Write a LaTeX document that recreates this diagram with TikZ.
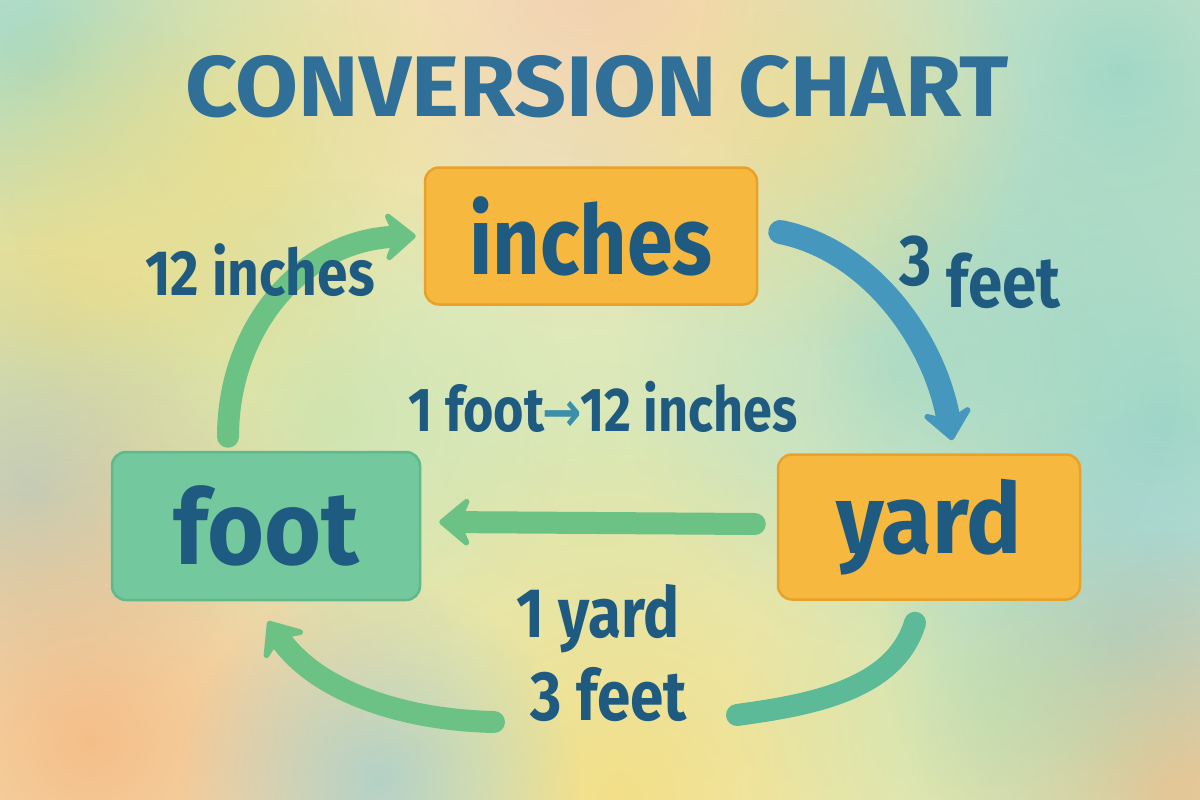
\documentclass[tikz,border=0pt]{standalone}
\usepackage{fontspec}
\setmainfont{Fira Sans}
\newfontfamily\dejavu{DejaVu Sans}
\usetikzlibrary{arrows.meta,fadings}
\definecolor{bgbase}{HTML}{F4EFC4}
\definecolor{titleblue}{HTML}{2F6F98}
\definecolor{lblblue}{HTML}{1F5B80}
\definecolor{orfill}{HTML}{F6B83E}
\definecolor{ordraw}{HTML}{E9A12A}
\definecolor{grfill}{HTML}{74C89E}
\definecolor{grdraw}{HTML}{5FB98C}
\definecolor{grarrow}{HTML}{6CC185}
\definecolor{blarrow}{HTML}{4597BD}
\definecolor{midarrow}{HTML}{3B8FA8}
\definecolor{tealarrow}{HTML}{5CBA98}
\definecolor{wcteal}{HTML}{8ED3C9}
\definecolor{wcorange}{HTML}{F5B27A}
\definecolor{wcyellow}{HTML}{F5DC7A}
\definecolor{wcblue}{HTML}{8CC8E0}
\definecolor{wcgreen}{HTML}{B8DFA8}
\definecolor{wcpeach}{HTML}{F5C4A8}
\tikzfading[name=softblob, inner color=transparent!0, outer color=transparent!100]
\begin{document}
\begin{tikzpicture}[x=1pt,y=-1pt,
  box/.style={rounded corners=14pt, line width=2.5pt, inner sep=0pt},
  boxtext/.style={text=lblblue, font=\bfseries},
  lbl/.style={text=lblblue, inner sep=0pt},
  conn/.style={line width=22pt, line cap=round, -{Stealth[round, length=36pt, width=60pt, inset=13pt]}},
  plainconn/.style={line width=22pt, line cap=round}
]
\useasboundingbox (0,0) rectangle (1200,800);
\fill[bgbase] (0,0) rectangle (1200,800);
% watercolor blobs
\foreach \bx/\by/\br/\bc/\op in {
  600/450/520/wcgreen/0.45, 40/60/380/wcteal/0.8, 600/-30/360/wcpeach/0.7, 1120/70/420/wcteal/0.8,
  60/330/320/wcyellow/0.8, 30/490/240/wcblue/0.6, 90/740/380/wcorange/0.8, 620/800/380/wcyellow/0.8,
  380/780/200/wcblue/0.6, 1170/420/360/wcteal/0.8, 1120/640/240/wcblue/0.7, 1170/790/260/wcorange/0.7,
  900/370/280/wcteal/0.5, 250/130/260/wcyellow/0.6, 800/120/230/wcyellow/0.5, 1000/720/260/wcgreen/0.6,
  330/420/240/wcgreen/0.5}{
  \fill[\bc, path fading=softblob, opacity=\op] (\bx,\by) circle[radius=\br pt];
}
% title
\node[text=titleblue, inner sep=0pt] (title) at (597,87)
  {\fontsize{86}{90}\selectfont\bfseries\scalebox{1.06}[1]{CONVERSION CHART}};
% boxes
\node[box, fill=orfill, draw=ordraw, minimum width=332pt, minimum height=137pt] (inches) at (591,236) {};
\node[boxtext] at (inches.center) {\fontsize{96}{100}\selectfont\scalebox{0.86}[1]{inches}};
\node[box, fill=orfill, draw=ordraw, minimum width=302pt, minimum height=145pt] (yard) at (929,527) {};
\node[boxtext] at (yard.center) {\fontsize{98}{100}\selectfont\scalebox{0.94}[1]{yard}};
\node[box, fill=grfill, draw=grdraw, minimum width=308pt, minimum height=148pt] (foot) at (266,526) {};
\node[boxtext] at (foot.center) {\fontsize{104}{100}\selectfont\scalebox{0.94}[1]{foot}};
% connectors
\draw[conn, grarrow] ([xshift=-38pt,yshift=14pt]foot.north) .. controls (228,330) and (300,240) .. ([xshift=-8pt]inches.west);
\draw[conn, blarrow, line width=24pt] ([xshift=22pt,yshift=4pt]inches.east) .. controls (870,250) and (935,340) .. ([xshift=23pt,yshift=13pt]yard.north);
\draw[conn, grarrow] ([xshift=-22pt,yshift=3pt]yard.west) -- ([xshift=18pt,yshift=4pt]foot.east);
\coordinate (b1) at (737,715);
\coordinate (b2) at (494,722);
\draw[plainconn, tealarrow] ([xshift=-14pt,yshift=-22pt]yard.south) .. controls (895,690) and (810,705) .. (b1);
\draw[conn, grarrow] (b2) .. controls (400,720) and (315,690) .. ([xshift=2pt,yshift=-20pt]foot.south);
% labels
\node[lbl] (l12) at (260,270) {\fontsize{64}{66}\selectfont\bfseries\scalebox{0.86}[1]{12 inches}};
\node[lbl] (l3f) at (980,272) {\fontsize{72}{74}\selectfont\bfseries\scalebox{0.86}[1]{\raisebox{22pt}{3} feet}};
\node[lbl] (lmid) at (603,407) {\fontsize{62}{64}\selectfont\bfseries\scalebox{0.84}[1]{1 foot\kern-2pt{\dejavu\color{midarrow}\fontsize{56}{56}\selectfont →}\kern-2pt12 inches}};
\node[lbl] (lyd) at (598,619) {\fontsize{70}{72}\selectfont\bfseries\scalebox{0.86}[1]{1 yard}};
\node[lbl] (lft) at (609,695) {\fontsize{70}{72}\selectfont\bfseries\scalebox{0.86}[1]{3 feet}};
\end{tikzpicture}
\end{document}
